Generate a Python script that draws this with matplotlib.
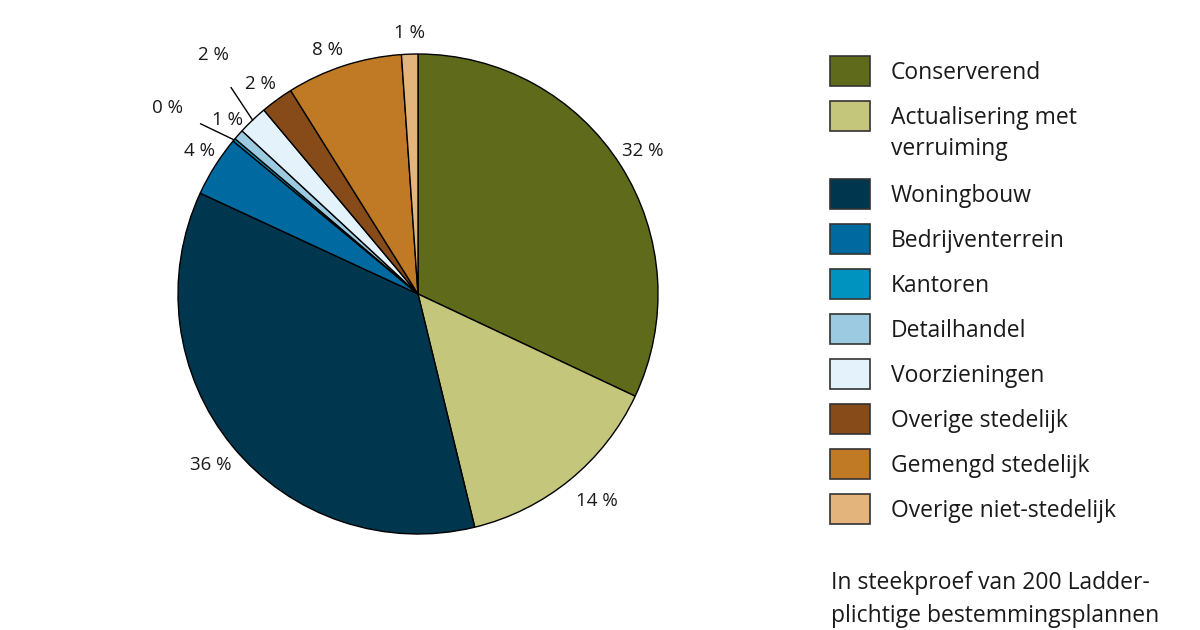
import numpy as np
import matplotlib
matplotlib.use('Agg')
import matplotlib.pyplot as plt
from matplotlib.patches import Rectangle

plt.rcParams['font.family'] = ['Open Sans', 'DejaVu Sans']

categories = ['Conserverend', 'Actualisering met\nverruiming', 'Woningbouw',
              'Bedrijventerrein', 'Kantoren', 'Detailhandel', 'Voorzieningen',
              'Overige stedelijk', 'Gemengd stedelijk', 'Overige niet-stedelijk']
shares = [32.0, 14.2, 35.7, 4.1, 0.2, 0.7, 2.0, 2.2, 7.8, 1.1]
labels = [32, 14, 36, 4, 0, 1, 2, 2, 8, 1]
colors = ['#5f6b1a', '#c4c77b', '#00374f', '#006aa0', '#0093c0',
          '#9ccae0', '#e4f3fb', '#864b18', '#c07a26', '#e3b57c']
note = 'In steekproef van 200 Ladder-\nplichtige bestemmingsplannen'

W, H = 1200, 630
fig = plt.figure(figsize=(12, 6.3), dpi=100)
ax = fig.add_axes([0, 0, 1, 1])

cx, cy, R = 418, H - 294, 240
wedges, _ = ax.pie(shares, colors=colors, startangle=90, counterclock=False,
                   center=(cx, cy), radius=R,
                   wedgeprops=dict(edgecolor='black', linewidth=1))

# label afstand (x straal) en hoekcorrectie per stuk
lab_r = [1.11, 1.14, 1.12, 1.09, 1.30, 1.075, 1.31, 1.095, 1.085, 1.09]
lab_da = [0, 1.5, 0, -1, 3.4, -0.7, -2.9, 0.9, 2.4, -0.2]
# leader lijntjes: (buitenstraal, hoekcorrectie buiteneinde)
leader = {4: (1.15, 1.9), 6: (1.16, -1.4)}

for i, w in enumerate(wedges):
    mid_deg = (w.theta1 + w.theta2) / 2
    mid = np.deg2rad(mid_deg + lab_da[i])
    ax.text(cx + lab_r[i] * R * np.cos(mid), cy + lab_r[i] * R * np.sin(mid),
            f'{labels[i]} %', ha='center', va='center', fontsize=13.5, color='#1a1a1a')
    if i in leader:
        r_out, da = leader[i]
        m0 = np.deg2rad(mid_deg)
        m1 = np.deg2rad(mid_deg + da)
        ax.plot([cx + R * np.cos(m0), cx + r_out * R * np.cos(m1)],
                [cy + R * np.sin(m0), cy + r_out * R * np.sin(m1)],
                color='black', lw=1)

# legenda
y = 71
for name, c in zip(categories, colors):
    ax.add_patch(Rectangle((830, H - y - 15), 40, 30, facecolor=c,
                           edgecolor='#333333', linewidth=1.2))
    lines = name.split('\n')
    for k, line in enumerate(lines):
        ax.text(891, H - y - 2 - 31 * k, line, ha='left', va='center',
                fontsize=16.5, color='#1a1a1a')
    y += 45 + 33 * (len(lines) - 1)

for k, line in enumerate(note.split('\n')):
    ax.text(831, H - 583 - 33 * k, line, ha='left', va='center',
            fontsize=16.5, color='#1a1a1a')

ax.set_xlim(0, W)
ax.set_ylim(0, H)
ax.set_aspect('equal')
ax.axis('off')

fig.savefig('out.png', dpi=100)
